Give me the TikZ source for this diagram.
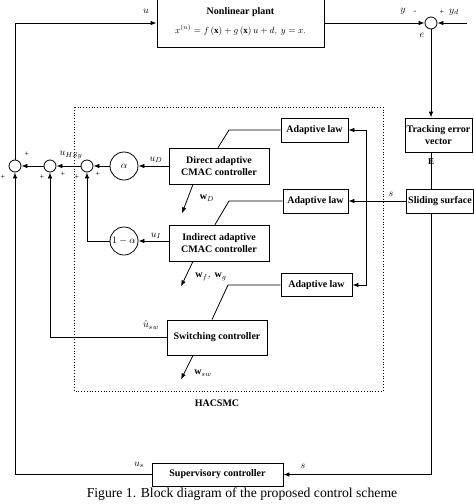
\documentclass[tikz,border=0pt]{standalone}
\usepackage{fontspec}
\setmainfont{Liberation Serif}
\usetikzlibrary{arrows.meta,calc}
\begin{document}
\begin{tikzpicture}[x=1pt,y=-1pt,
  every path/.style={line width=0.8pt},
  >={Latex[length=6pt,width=4.5pt]},
  blk/.style={draw, rectangle, inner sep=1pt, align=center, font=\fontsize{10}{11.5}\selectfont\bfseries},
  sumc/.style={draw, circle, minimum size=12pt, inner sep=0pt},
  gainc/.style={draw, circle, minimum size=28pt, inner sep=0pt},
  lbl/.style={inner sep=0pt, font=\fontsize{10}{11}\selectfont},
  pl/.style={inner sep=0pt, font=\fontsize{8}{9}\selectfont}]
\useasboundingbox (0,0) rectangle (474,504);
% blocks
\node[blk, minimum width=167pt, minimum height=48pt] (plant) at (240.5,23) {};
\node[inner sep=0pt, font=\fontsize{10}{11.5}\selectfont\bfseries] (plantt) at (240.5,12) {Nonlinear plant};
\node[inner sep=0pt, font=\fontsize{9}{10}\selectfont] (plante) at (240.5,30) {$x^{(n)}=f\left(\mathbf{x}\right)+g\left(\mathbf{x}\right)u+d,\ y=x.$};
\node[blk, minimum width=67pt, minimum height=34pt] (track) at (438.5,135) {Tracking error\\vector};
\node[blk, minimum width=67pt, minimum height=24pt] (slide) at (440,201) {Sliding surface};
\node[blk, minimum width=67pt, minimum height=24pt] (law1) at (314.5,130) {Adaptive law};
\node[blk, minimum width=65pt, minimum height=24pt] (law2) at (315.5,201) {Adaptive law};
\node[blk, minimum width=71pt, minimum height=23pt] (law3) at (316.5,285) {Adaptive law};
\node[blk, minimum width=100pt, minimum height=36pt] (direct) at (219,166) {Direct adaptive\\CMAC controller};
\node[blk, minimum width=100pt, minimum height=36pt] (indirect) at (219,243) {Indirect adaptive\\CMAC controller};
\node[blk, minimum width=100pt, minimum height=35pt] (switch) at (217,337.5) {Switching controller};
\node[blk, minimum width=131pt, minimum height=23pt] (super) at (217.5,474.5) {Supervisory controller};
\node[gainc] (alpha) at (124,166) {$\alpha$};
\node[gainc] (oma) at (124,241) {$1-\alpha$};
\node[sumc] (se) at (431,23) {};
\node[sumc] (s1) at (87,166) {};
\node[sumc] (s2) at (50,166) {};
\node[sumc] (s3) at (15,166) {};
% dotted frame
\draw[dotted] (74,107) rectangle (383,391);
\node[inner sep=0pt, font=\fontsize{10}{11.5}\selectfont\bfseries] (hac) at (217,403) {HACSMC};
\node[inner sep=0pt, font=\fontsize{13.7}{15}\selectfont] (cap) at (242,494) {Figure 1. Block diagram of the proposed control scheme};
% connectors
\coordinate (yd) at (467,23);
\coordinate (j) at (366,201);
\draw[->] (s3.north) |- (plant.west);
\draw[->] (plant.east) -- (se.west);
\draw[->] (yd) -- (se.east);
\draw[->] (se.south) -- (se.south |- track.north);
\draw (se |- track.south) -- (se |- slide.north);
\draw[->] (se |- slide.south) |- (super.east);
\draw[->] (super.west) -| (s3.south);
\draw[->] (slide.west) -- (law2.east);
\draw[->] (j) |- (law1.east);
\draw[->] (j) |- (law3.east);
\draw (law1.west) -- (229,130) -- ($(direct.north)+(-1,0)$);
\draw (law2.west) -- (229,201) -- ($(indirect.north)+(-4,0)$);
\draw (law3.west) -- (228,285) -- ($(switch.north)+(-5,0)$);
\draw[->] ($(direct.south)+(-26,0)$) -- ++(-11,29);
\draw[->] ($(indirect.south)+(-26,0)$) -- ++(-12,25);
\draw[->] ($(switch.south)+(-24,0)$) -- ++(-12,24);
\draw[->] (direct.west) -- (alpha.east);
\draw[->] (indirect.west |- oma) -- (oma.east);
\draw[->] (alpha.west) -- (s1.east);
\draw[->] (oma.west) -| (s1.south);
\draw[->] (s1.west) -- (s2.east);
\draw[->] (s2.west) -- (s3.east);
\draw[->] (switch.west) -| (s2.south);
% labels
\node[lbl] (lu) at (146,11) {$u$};
\node[lbl] (ly) at (403,11) {$y$};
\node[pl] (lm) at (415,12) {-};
\node[pl] (lp) at (442,12) {+};
\node[lbl] (lyd) at (454,12) {$y_d$};
\node[lbl] (le) at (422,35) {$e$};
\node[inner sep=0pt, font=\fontsize{9}{10}\selectfont\bfseries] (lE) at (431,162) {E};
\node[lbl] (ls1) at (391,194) {$s$};
\node[lbl] (ls2) at (303,466) {$s$};
\node[lbl] (lus) at (139,465) {$u_s$};
\node[lbl] (lwd) at (207,198) {$\mathbf{w}_D$};
\node[lbl] (lwfg) at (211,277) {$\mathbf{w}_f,\ \mathbf{w}_g$};
\node[lbl] (lwsw) at (203,373) {$\mathbf{w}_{sw}$};
\node[lbl] (lud) at (156,160) {$u_D$};
\node[lbl] (lui) at (156,236) {$u_I$};
\node[lbl] (luh) at (71,155) {$u_{HSy}$};
\node[lbl] (lusw) at (151,325) {$\hat{u}_{sw}$};
\node[pl] (p1) at (77,177) {+};
\node[pl] (p2) at (98,174) {+};
\node[pl] (p3) at (42,177) {+};
\node[pl] (p4) at (63,174) {+};
\node[pl] (p5) at (3,177) {+};
\node[pl] (p6) at (27,154) {+};
\end{tikzpicture}
\end{document}
